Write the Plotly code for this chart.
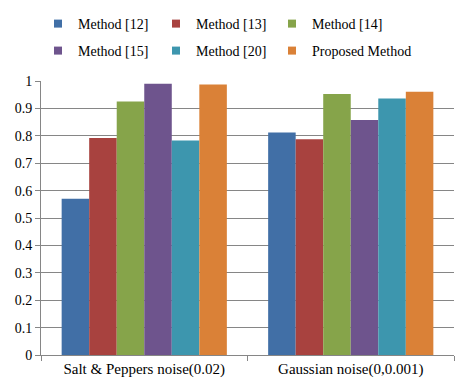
import plotly.graph_objects as go

categories = ["Salt & Peppers noise(0.02)", "Gaussian noise(0,0.001)"]
series_names = ["Method [12]", "Method [13]", "Method [14]", "Method [15]", "Method [20]", "Proposed Method"]
method_12 = [0.57, 0.812]
method_13 = [0.792, 0.787]
method_14 = [0.925, 0.953]
method_15 = [0.990, 0.858]
method_20 = [0.783, 0.936]
proposed = [0.987, 0.961]
y_ticks = [0, 0.1, 0.2, 0.3, 0.4, 0.5, 0.6, 0.7, 0.8, 0.9, 1]
y_tick_labels = ["0", "0.1", "0.2", "0.3", "0.4", "0.5", "0.6", "0.7", "0.8", "0.9", "1"]

series_values = [method_12, method_13, method_14, method_15, method_20, proposed]
colors = ["#416FA6", "#A8423F", "#86A44A", "#6E548D", "#3D96AE", "#DA8137"]

font_family = "Liberation Serif"
W, H = 458, 376  # page body has 8px margin

# legend grid (figure pixels): left edges of columns, centers of rows
legend_x = [30, 148, 264]
legend_y = [16, 43]

fig = go.Figure()
legend_layout = {}
for i, (name, vals, c) in enumerate(zip(series_names, series_values, colors)):
    lid = "legend" if i == 0 else f"legend{i + 1}"
    fig.add_trace(go.Bar(x=categories, y=vals, name=name, showlegend=False,
                         marker=dict(color=c, line=dict(width=0))))
    fig.add_trace(go.Scatter(x=[None], y=[None], name=name, legend=lid, mode="markers",
                             marker=dict(symbol="square", size=8, color=c)))
    legend_layout[lid] = dict(orientation="h", xref="container", yref="container",
                              x=legend_x[i % 3] / W, xanchor="left",
                              y=1 - legend_y[i // 3] / H, yanchor="middle",
                              itemwidth=30,
                              font=dict(family=font_family, size=14, color="black"),
                              bgcolor="rgba(0,0,0,0)", borderwidth=0)

fig.update_layout(
    width=W, height=H,
    margin=dict(l=33, r=12, t=73, b=29, autoexpand=False),
    paper_bgcolor="white", plot_bgcolor="white",
    barmode="group", bargap=0.2, bargroupgap=0,
    font=dict(family=font_family, size=14, color="black"),
    showlegend=True,
    **legend_layout,
)
fig.update_xaxes(type="category", tickson="boundaries", ticks="outside", ticklen=5,
                 tickcolor="#868686", showline=True, linecolor="#868686", linewidth=1,
                 showgrid=False, tickfont=dict(family=font_family, size=15))
fig.update_yaxes(range=[0, 1], tickvals=y_ticks, ticktext=y_tick_labels, ticks="outside",
                 ticklen=5, tickcolor="#868686", showline=True, linecolor="#868686",
                 linewidth=1, showgrid=True, gridcolor="#868686", gridwidth=1,
                 zeroline=False, tickfont=dict(family=font_family, size=14))

fig.write_html("out.html")
